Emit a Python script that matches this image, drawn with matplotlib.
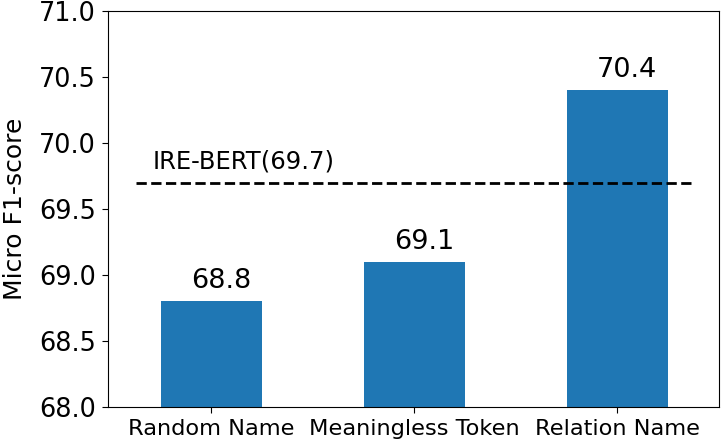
import numpy as np
import matplotlib
matplotlib.use('Agg')
import matplotlib.pyplot as plt

# data
methods = ['Random Name', 'Meaningless Token', 'Relation Name']
scores = [68.8, 69.1, 70.4]
baseline_name = 'IRE-BERT'
baseline_score = 69.7
yticks = [68.0, 68.5, 69.0, 69.5, 70.0, 70.5, 71.0]

fig = plt.figure(figsize=(7.24, 4.45), dpi=100)
ax = fig.add_axes([0.149, 0.0854, 0.844, 0.890])

x = np.arange(len(methods))
bars = ax.bar(x, scores, width=0.5, color='#1f77b4')

# value labels sit a little right of the bar centre in the original
for xi, s in zip(x, scores):
	ax.annotate('%.1f' % s, (xi, s), xytext=(7, 9.4), textcoords='offset points',
				ha='center', va='baseline', fontsize=19.5)

ax.hlines(baseline_score, -0.37, 2.37, colors='black', linestyles='--', linewidth=2)
ax.text(-0.29, baseline_score + 0.11, '%s(%.1f)' % (baseline_name, baseline_score),
		ha='left', va='baseline', fontsize=17.5)

ax.set_xlim(-0.51, 2.5)
ax.set_ylim(68.0, 71.0)
ax.set_yticks(yticks)
ax.set_yticklabels(['%.1f' % t for t in yticks])
ax.set_xticks(x)
ax.set_xticklabels(methods)
ax.tick_params(axis='y', labelsize=18.4, length=4.5, pad=4)
ax.tick_params(axis='x', labelsize=16.2, length=4.5, pad=4)
ax.set_ylabel('Micro F1-score', fontsize=18, labelpad=9)

fig.savefig('out.png', dpi=100)
